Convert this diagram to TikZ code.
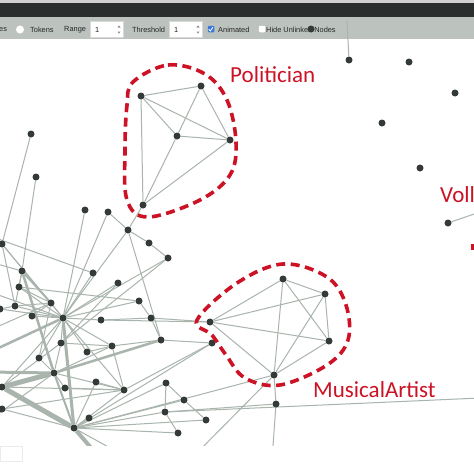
\documentclass[tikz,border=0pt]{standalone}
\usepackage{fontspec}
\setmainfont{Liberation Sans}
\newfontfamily\labelfont{Carlito}
\usetikzlibrary{positioning, backgrounds}
\definecolor{edgegray}{RGB}{168,180,172}
\definecolor{dotgray}{RGB}{52,58,56}
\definecolor{tagred}{RGB}{204,18,36}
\definecolor{barbg}{RGB}{188,195,191}
\definecolor{bardark}{RGB}{42,46,45}
\definecolor{tickblue}{RGB}{60,120,220}
\tikzset{%
	entity/.style={
		circle,
		fill=dotgray,
		inner sep=0pt,
		minimum size=7pt
	},
	link/.style={draw=edgegray, line width=1pt},
	heavy/.style={draw=edgegray, line width=#1},
	hull/.style={draw=tagred, line width=3.6pt, dash pattern=on 9pt off 5.5pt},
	tag/.style={text=tagred, font=\labelfont\fontsize{23}{23}\selectfont, inner sep=0pt, anchor=base west},
	uitext/.style={font=\fontsize{7.4}{8}\selectfont, text=black!85, inner sep=0pt, anchor=west},
	inbox/.style={draw=black!15, fill=white, minimum width=33pt, minimum height=16pt, inner sep=0pt},
	tickbox/.style={minimum size=6.5pt, inner sep=0pt, rounded corners=1pt},
}
\begin{document}
\begin{tikzpicture}[x=1pt, y=-1pt]
	\useasboundingbox (0,0) rectangle (474,474);

	% graph nodes
	\foreach \n/\x/\y in {pa/141/96, pb/201/86, pc/177/136, pd/230/140, pe/143/205,
		ma/283/279, mb/325/294, mc/210/322, md/329/341, me/274/375, mf/212/343,
		ra/349/60, rb/409/62, rc/455/93, rd/382/123, re/420/168, rf/448/223, tb/311/29,
		aa/31/134, ab/36/177,
		ba/85/210, bb/108/212, bc/128/230, bd/149/243, be/168/258,
		ca/2/244, cb/22/271, cc/19/287, cd/93/273, ce/118/283,
		da/0/309, db/15/306, dc/51/303, dd/32/316, de/63/318, df/101/320, dg/139/301, dh/151/318, di/161/340,
		ea/61/343, eb/87/352, ec/112/346, ed/39/358, ee/54/373, ef/96/382, eg/65/388, eh/124/390, ei/2/387,
		fa/2/409, fb/89/418, fc/74/428,
		ga/166/383, gb/184/400, gc/165/412, gd/206/420, ge/178/433, gf/276/404}
		\node[entity] (\n) at (\x,\y) {};

	% loose ends leaving the view
	\coordinate (ola) at (-10,262);
	\coordinate (olb) at (-10,330);
	\coordinate (olc) at (-10,352);
	\coordinate (old) at (-10,420);
	\coordinate (ole) at (-10,292);
	\coordinate (olf) at (-10,372);
	\coordinate (olg) at (-10,236);
	\coordinate (obr) at (110,470);
	\coordinate (obx) at (150,470);
	\coordinate (obm) at (190,460);
	\coordinate (obs) at (272,460);
	\coordinate (ore) at (480,212);
	\coordinate (orr) at (480,398);
	\coordinate (ort) at (347,21);

	\begin{scope}[on background layer]
		\fill[white] (0,0) rectangle (474,474);
		\fill[black!18] (0,0) rectangle (474,3);
		\fill[bardark] (0,3) rectangle (474,17);
		\fill[barbg] (0,17) rectangle (474,39);
		\draw[black!8] (0,446) rectangle (22,461);

		% toolbar
		\node[uitext] (tes) at (-1,29.5) {es};
		\node[circle, fill=white, minimum size=8pt, inner sep=0pt] (rad) at (20,29.5) {};
		\node[uitext] (ttok) at (30,29.5) {Tokens};
		\node[uitext] (trng) at (64,29.5) {Range};
		\node[inbox] (boxa) at (106.5,29.5) {};
		\node[uitext] (vala) at (95,30) {1};
		\node[uitext] (tthr) at (132,29.5) {Threshold};
		\node[inbox] (boxb) at (185.5,29.5) {};
		\node[uitext] (valb) at (174,30) {1};
		\foreach \sx in {119,198} {
			\fill[black!45] (\sx-1.5,27.5) -- (\sx+1.5,27.5) -- (\sx,25.3) -- cycle;
			\fill[black!45] (\sx-1.5,31.5) -- (\sx+1.5,31.5) -- (\sx,33.7) -- cycle;
		}
		\node[tickbox, fill=tickblue] (chka) at (211,29) {};
		\draw[white, line width=0.8pt] (chka.west) ++(1.2,0.3) -- ++(1.6,1.6) -- ++(2.6,-3.6);
		\node[uitext] (tani) at (218,29.5) {Animated};
		\node[tickbox, fill=white] (chkb) at (262,29) {};
		\node[uitext] (thid) at (266,29.5) {Hide Unlinked Nodes};

		\begin{scope}
			\clip (0,12) rectangle (474,445);
			% edges
			\foreach \a/\b in {pa/pb, pa/pc, pa/pd, pa/pe, pb/pc, pb/pd, pc/pd, pc/pe, pd/pe, pe/bc,
				ma/mb, ma/mc, ma/md, ma/me, mb/mc, mb/md, mb/me, mc/md, mc/me, md/me,
				aa/ca, ab/cb, ra/ort, rf/ore,
				ba/de, bb/de, bb/bc, bc/bd, bd/be, bc/de, be/de, be/ea, bc/di, cd/de, ce/de, ce/ea,
				cb/cc, cb/db, cc/dc, cc/de, ca/db, ca/dc, ca/de, da/db, da/de, db/dc, db/de, dc/de, dd/de, dd/dc,
				de/df, df/dh, dg/dh, dh/di, dh/mc, df/mc, de/dg, de/eh, de/ea, de/ec, cc/dg,
				ea/ec, ec/eh, ec/di, eb/ec, eb/de, ed/ee, ed/de, ed/dc, ee/eg, ee/ec, ee/eh, eg/eh, ef/eh, ef/fc,
				eh/mf, di/mf, ea/ee, fb/fc, fa/fc, fa/eh, ei/ea, ei/de, ei/eh, fc/eh,
				fc/ga, fc/gc, fc/gd, fc/ge, fc/gb, fc/me, fc/mf, fc/obx,
				ga/gb, gb/gd, ga/gc, gc/ge, gc/gf, gf/me, gf/obs, me/obm, gc/orr,
				ola/cb, olb/dc, old/ee, ole/de, olg/cd}
				\draw[link] (\a) -- (\b);
			\draw[heavy=2.5pt] (cb) -- (ee);
			\draw[heavy=2pt] (cb) -- (dc);
			\draw[heavy=5pt] (ee) -- (ei);
			\draw[heavy=5pt] (ei) -- (fc);
			\draw[heavy=3pt] (de) -- (fc);
			\draw[heavy=2.5pt] (ee) -- (di);
			\draw[heavy=2.5pt] (olc) -- (de);
			\draw[heavy=3pt] (olf) -- (ee);
			\draw[heavy=2pt] (ee) -- (fc);
			\draw[heavy=4pt] (fc) -- (obr);
		\end{scope}
	\end{scope}

	% clusters
	\draw[hull] plot[smooth cycle, tension=0.6] coordinates {(133,82) (168,65) (205,74) (227,100) (236,142) (230,175) (200,200) (148,217) (127,200) (125,150) (127,105)};
	\draw[hull] plot[smooth cycle, tension=0.6] coordinates {(197,320) (237,283) (283,264) (327,277) (346,305) (348,340) (327,365) (280,385) (245,378) (226,355) (212,335)};
	\fill[tagred] (471,244) rectangle (474,250);

	\node[tag] (lpol) at (230,82) {Politician};
	\node[tag] (lmus) at (313,397) {MusicalArtist};
	\node[tag] (lvol) at (440,202) {Voll};
\end{tikzpicture}
\end{document}
